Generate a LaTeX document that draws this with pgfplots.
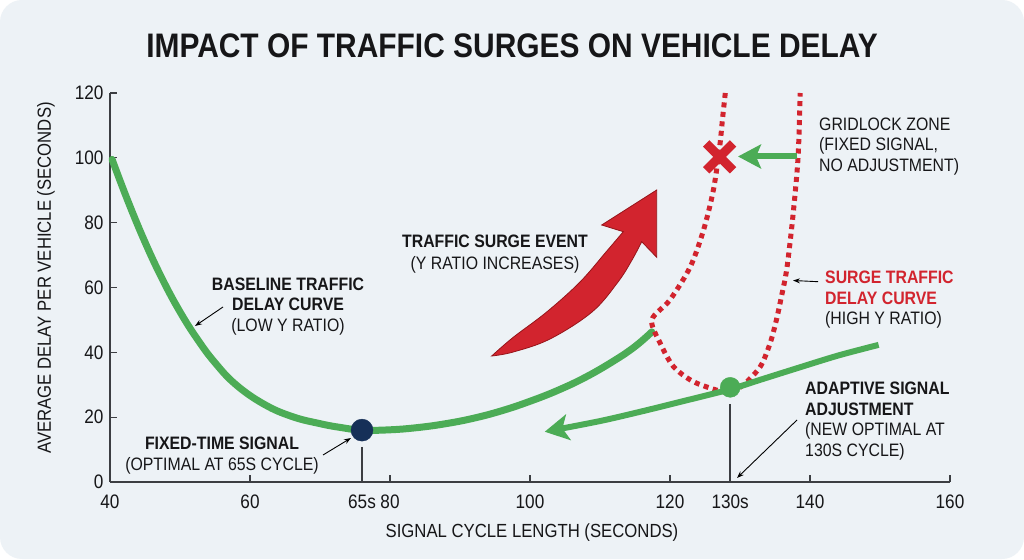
\documentclass[border=0pt]{standalone}
\usepackage{pgfplots}
\pgfplotsset{compat=1.18}
\usetikzlibrary{arrows.meta}
\usepackage{fontspec}
\setmainfont{Liberation Sans}[FakeStretch=0.88]
\definecolor{bgc}{RGB}{237,242,246}
\definecolor{grn}{RGB}{76,172,86}
\definecolor{surgered}{RGB}{210,36,46}
\definecolor{darkred}{RGB}{150,20,25}
\definecolor{navy}{RGB}{22,48,88}
\definecolor{axisgray}{RGB}{60,62,66}
\definecolor{textc}{RGB}{22,22,24}
\begin{document}
\begin{tikzpicture}
% background card
\fill[white] (0,0) rectangle (1024pt,559pt);
\fill[bgc, rounded corners=22pt] (0,0) rectangle (1024pt,559pt);
\begin{axis}[
  at={(110pt,77pt)}, anchor=south west,
  scale only axis, width=840pt, height=389pt,
  xmin=40, xmax=160, ymin=0, ymax=120,
  axis lines*=left,
  axis line style={draw=axisgray, line width=1.3pt},
  tick align=inside, major tick length=7pt,
  tick style={draw=axisgray, line width=1.2pt},
  xtick={40,60,80,100,120,140,160},
  ytick={0,20,40,60,80,100,120},
  extra x ticks={76,128.6},
  extra x tick labels={65s,130s},
  extra x tick style={tick style={draw=none}},
  ticklabel style={font=\fontsize{19.5}{20}\selectfont, text=textc},
  /pgf/number format/assume math mode=true,
  xticklabel style={yshift=-9pt},
  yticklabel style={xshift=-3pt},
  clip=false,
]
% baseline delay curve
\addplot[grn, line width=7pt, line cap=round, smooth, tension=0.7] coordinates {
 (40.3,99.5) (42.5,87) (45,74) (47.5,62.5) (50,52.5) (52.5,44) (55,36.8)
 (58,30) (62,24) (66,20.2) (70,18) (73,16.8) (76,16.0)
 (80,16.1) (84,16.8) (88,18.0) (92,19.7) (96,22.0) (100,24.9) (104,28.3)
 (108,32.4) (112,37.4) (115,41.8) (117.4,46.3)};
% surge delay curve
\addplot[surgered, line width=5pt, dash pattern=on 5pt off 4.5pt, smooth, tension=0.5] coordinates {
 (127.9,120) (127.5,112) (127.1,103.5) (126.2,90.1) (124.8,77.8) (122.9,66.4)
 (120,56.2) (117.4,50) (118.6,42.8) (120.5,35.6) (123.3,31) (126.9,28.2)
 (128.6,27.8) (130.5,30.0) (132.9,35.6) (134.3,42.8) (135.2,50) (135.9,57)
 (136.7,66) (137.6,82.9) (138.3,100.4) (138.6,120)};
% adaptive adjustment
\addplot[grn, line width=6pt, smooth, -{Stealth[length=24pt,width=26pt,inset=6pt]}] coordinates {
 (149.8,42.3) (144,39.0) (138,35.0) (133,31.6) (128.6,28.6) (122,25.0)
 (116,21.8) (110,18.8) (102.1,15.5)};
% points
\addplot[only marks, mark=*, mark size=10pt, mark options={draw=grn, fill=grn}] coordinates {(128.6,29.2)};
\addplot[only marks, mark=*, mark size=11pt, mark options={draw=navy, fill=navy}] coordinates {(76,16)};
\addplot[only marks, mark=x, mark size=19pt, mark options={draw=surgered, line width=9pt}] coordinates {(127.1,100.3)};
\end{axis}
\begin{scope}[x=1pt, y=-1pt, yshift=559pt]
% title and axis labels
\node[text=textc, font=\fontsize{34}{38}\selectfont\bfseries] at (512,46) {IMPACT OF TRAFFIC SURGES ON VEHICLE DELAY};
\node[text=textc, font=\fontsize{19}{22}\selectfont] at (532,533) {SIGNAL CYCLE LENGTH (SECONDS)};
\node[text=textc, font=\fontsize{19}{22}\selectfont, rotate=90] at (46,278) {AVERAGE DELAY PER VEHICLE (SECONDS)};
% guide lines
\draw[axisgray, line width=1.1pt] (362,447) -- (362,482);
\draw[axisgray, line width=1.1pt] (730,404) -- (730,482);
% red surge arrow
\fill[surgered, draw=darkred, line width=0.8pt, line join=miter]
  (491.7,356) -- plot[smooth, tension=0.6] coordinates {(491.7,356) (513,337.5) (546.7,312) (580,282) (606,252) (623.3,231.7)}
  -- (601.7,225) -- (656.7,190) -- (656.7,257.3) -- (641.7,241.7)
  -- plot[smooth, tension=0.6] coordinates {(641.7,241.7) (632,260) (618,282) (592,312) (550,339) (513.3,352) (491.7,356)} -- cycle;
% green arrow to X
\draw[grn, line width=6pt, -{Stealth[length=23pt,width=24pt,inset=5pt]}] (797,156.5) -- (738,156.5);
% annotations
\begin{scope}[font=\fontsize{18}{20.5}\selectfont, text=textc]
\node[align=center] at (288,306.5) {\textbf{BASELINE TRAFFIC}\\\textbf{DELAY CURVE}\\(LOW Y RATIO)};
\draw[black, line width=0.9pt, -{Stealth[length=7pt,width=5pt]}] (223,307) -- (195,326);
\node[align=center] at (222,455.5) {\textbf{FIXED-TIME SIGNAL}\\(OPTIMAL AT 65S CYCLE)};
\draw[black, line width=0.9pt, -{Stealth[length=7pt,width=5pt]}] (323,455) -- (351,438);
\node[align=center, font=\fontsize{18}{22}\selectfont] at (495,254) {\textbf{TRAFFIC SURGE EVENT}\\(Y RATIO INCREASES)};
\node[align=left, anchor=west, inner sep=0pt] at (819,146.5) {GRIDLOCK ZONE\\(FIXED SIGNAL,\\NO ADJUSTMENT)};
\node[align=left, anchor=west, inner sep=0pt] at (825,300) {\textcolor{surgered}{\textbf{SURGE TRAFFIC}}\\\textcolor{surgered}{\textbf{DELAY CURVE}}\\(HIGH Y RATIO)};
\draw[black, line width=0.9pt, -{Stealth[length=7pt,width=5pt]}] (818,281.7) -- (793,280.5);
\node[align=left, anchor=west, inner sep=0pt] at (805,421) {\textbf{ADAPTIVE SIGNAL}\\\textbf{ADJUSTMENT}\\(NEW OPTIMAL AT\\130S CYCLE)};
\draw[black, line width=0.9pt, -{Stealth[length=7pt,width=5pt]}] (797,420) -- (737,478);
\end{scope}
\end{scope}
\end{tikzpicture}
\end{document}
